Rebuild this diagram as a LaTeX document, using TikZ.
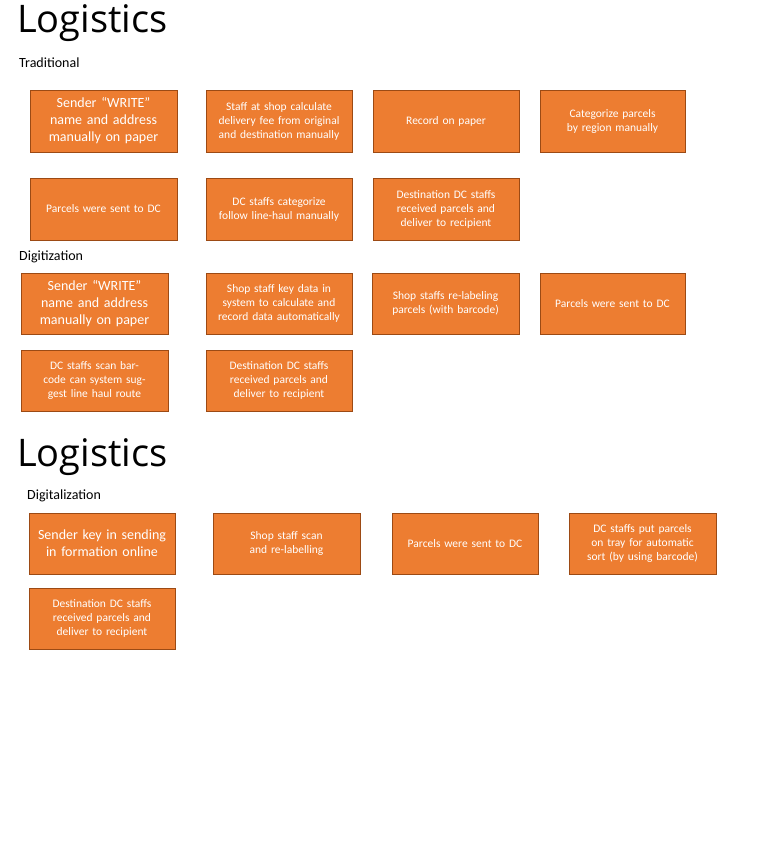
\documentclass[tikz,border=0pt]{standalone}
\usepackage{fontspec}
\setmainfont{Carlito}
\newfontfamily\titlefont{Open Sans}
\definecolor{boxfill}{HTML}{ED7D31}
\definecolor{boxline}{HTML}{9C4A14}
\begin{document}
\begin{tikzpicture}[x=1pt,y=-1pt,
  bx/.style={draw=boxline,fill=boxfill,text=white,align=center,inner sep=0pt,line width=0.8pt},
  sm/.style={font=\fontsize{11.5}{14}\selectfont},
  lg/.style={font=\fontsize{14}{17}\selectfont},
  ttl/.style={anchor=west,inner sep=0pt,font=\titlefont\fontsize{38}{40}\selectfont},
  lbl/.style={anchor=west,inner sep=0pt,font=\fontsize{14}{16}\selectfont}]
\useasboundingbox (0,0) rectangle (768,866);
\newcommand\bb[7]{\node[bx,#6,minimum width=#3-#1,minimum height=#4-#2,text width=#3-#1-10] (#5) at ({(#1+#3)/2},{(#2+#4)/2}) {#7};}
\node[ttl] (t1) at (17,23) {Logistics};
\node[lbl] (l1) at (19,63) {Traditional};
\bb{30}{90}{177}{152}{a1}{lg}{Sender “WRITE” name and address manually on paper}
\bb{206}{90}{352}{152}{a2}{sm}{Staff at shop calculate delivery fee from original and destination manually}
\bb{373}{90}{519}{152}{a3}{sm}{Record on paper}
\bb{540}{90}{685}{152}{a4}{sm}{Categorize parcels by region manually}
\bb{30}{178}{177}{240}{a5}{sm}{Parcels were sent to DC}
\bb{206}{178}{352}{240}{a6}{sm}{DC staffs categorize follow line-haul manually}
\bb{373}{178}{519}{240}{a7}{sm}{Destination DC staffs received parcels and deliver to recipient}
\node[lbl] (l2) at (19,257) {Digitization};
\bb{21}{273}{168}{334}{b1}{lg}{Sender “WRITE” name and address manually on paper}
\bb{206}{273}{352}{334}{b2}{sm}{Shop staff key data in system to calculate and record data automatically}
\bb{372}{273}{519}{334}{b3}{sm}{Shop staffs re-labeling parcels (with barcode)}
\bb{540}{273}{685}{334}{b4}{sm}{Parcels were sent to DC}
\bb{21}{350}{168}{411}{b5}{sm}{DC staffs scan barcode can system suggest line haul route}
\bb{206}{350}{352}{411}{b6}{sm}{Destination DC staffs received parcels and deliver to recipient}
\node[ttl] (t2) at (17,457) {Logistics};
\node[lbl] (l3) at (27,496) {Digitalization};
\bb{29}{513}{175}{574}{c1}{lg}{Sender key in sending in formation online}
\bb{213}{513}{360}{574}{c2}{sm}{Shop staff scan and re-labelling}
\bb{392}{513}{538}{574}{c3}{sm}{Parcels were sent to DC}
\bb{569}{513}{716}{574}{c4}{sm}{DC staffs put parcels on tray for automatic sort (by using barcode)}
\bb{29}{588}{175}{649}{c5}{sm}{Destination DC staffs received parcels and deliver to recipient}
\end{tikzpicture}
\end{document}
